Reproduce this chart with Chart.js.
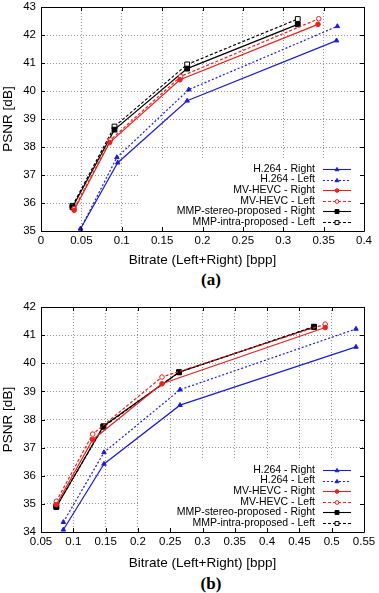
<!DOCTYPE html>
<html><head><meta charset="utf-8">
<script src="https://cdn.jsdelivr.net/npm/chart.js@4"></script>
<style>
html,body{margin:0;padding:0;background:#fff;}
body{width:379px;height:593px;position:relative;overflow:hidden;}
.wrap{position:absolute;left:0;width:379px;}
#wa{top:0;height:270px;}
#wb{top:295px;height:278px;}
.cap{position:absolute;font:bold 17px 'Liberation Serif','Times New Roman',serif;width:60px;text-align:center;left:181px;line-height:20px;color:#000;}
</style></head><body>
<div class="wrap" id="wa"><canvas id="ca" width="379" height="270"></canvas></div>
<div class="wrap" id="wb"><canvas id="cb" width="379" height="278"></canvas></div>
<div class="cap" style="top:270px">(a)</div>
<div class="cap" style="top:574px">(b)</div>
<script>
// ---------- data ----------
const seriesNames = ['H.264 - Right','H.264 - Left','MV-HEVC - Right','MV-HEVC - Left','MMP-stereo-proposed - Right','MMP-intra-proposed - Left'];
const xTitle = 'Bitrate (Left+Right) [bpp]';
const yTitle = 'PSNR [dB]';

// chart (a)
const aH264RightX = [0.049, 0.095, 0.181, 0.366];
const aH264RightY = [35.08, 37.44, 39.65, 41.80];
const aH264LeftX  = [0.049, 0.094, 0.183, 0.367];
const aH264LeftY  = [35.08, 37.63, 40.05, 42.31];
const aMvRightX   = [0.041, 0.085, 0.172, 0.343];
const aMvRightY   = [35.74, 38.16, 40.40, 42.38];
const aMvLeftX    = [0.041, 0.086, 0.173, 0.344];
const aMvLeftY    = [35.80, 38.25, 40.52, 42.58];
const aMmpRightX  = [0.039, 0.091, 0.181, 0.318];
const aMmpRightY  = [35.85, 38.62, 40.80, 42.38];
const aMmpLeftX   = [0.039, 0.091, 0.181, 0.318];
const aMmpLeftY   = [35.90, 38.73, 40.95, 42.57];
const aXTicks = [0, 0.05, 0.1, 0.15, 0.2, 0.25, 0.3, 0.35, 0.4];
const aXTickLabels = ['0','0.05','0.1','0.15','0.2','0.25','0.3','0.35','0.4'];
const aYTicks = [35, 36, 37, 38, 39, 40, 41, 42, 43];
const aYTickLabels = ['35','36','37','38','39','40','41','42','43'];

// chart (b)
const bH264RightX = [0.0846, 0.1475, 0.2652, 0.5376];
const bH264RightY = [34.08, 36.42, 38.51, 40.58];
const bH264LeftX  = [0.0846, 0.1475, 0.2652, 0.5376];
const bH264LeftY  = [34.35, 36.83, 39.06, 41.22];
const bMvRightX   = [0.0737, 0.130, 0.2373, 0.490];
const bMvRightY   = [34.97, 37.28, 39.27, 41.27];
const bMvLeftX    = [0.0737, 0.130, 0.2373, 0.490];
const bMvLeftY    = [35.09, 37.48, 39.51, 41.39];
const bMmpRightX  = [0.0737, 0.1465, 0.2636, 0.4726];
const bMmpRightY  = [34.89, 37.76, 39.68, 41.29];
const bMmpLeftX   = [0.0737, 0.1465, 0.2636, 0.4726];
const bMmpLeftY   = [34.90, 37.74, 39.68, 41.30];
const bXTicks = [0.05, 0.1, 0.15, 0.2, 0.25, 0.3, 0.35, 0.4, 0.45, 0.5, 0.55];
const bXTickLabels = ['0.05','0.1','0.15','0.2','0.25','0.3','0.35','0.4','0.45','0.5','0.55'];
const bYTicks = [34, 35, 36, 37, 38, 39, 40, 41, 42];
const bYTickLabels = ['34','35','36','37','38','39','40','41','42'];

// ---------- styles ----------
const BLUE = '#1c1ce0', RED = '#ee1e1e', BLACK = '#000000';
const styles = [
  {color: BLUE,  dash: [],     point: 'triangle', r: 2.6, fill: BLUE},
  {color: BLUE,  dash: [2, 2], point: 'triangle', r: 2.6, fill: BLUE},
  {color: RED,   dash: [],     point: 'circle',   r: 2.3, fill: RED},
  {color: RED,   dash: [3, 2], point: 'circle',   r: 2.3, fill: '#ffffff'},
  {color: BLACK, dash: [],     point: 'rect',     r: 3.4, fill: BLACK},
  {color: BLACK, dash: [3, 2], point: 'rect',     r: 3.4, fill: '#ffffff'}
];

function pts(xs, ys) { return xs.map((x, i) => ({x: x, y: ys[i]})); }
function buildDatasets(list) {
  return list.map((d, i) => ({
    label: seriesNames[i],
    data: pts(d[0], d[1]),
    showLine: true,
    borderColor: styles[i].color,
    borderWidth: 1.2,
    borderDash: styles[i].dash,
    pointStyle: styles[i].point,
    pointRadius: styles[i].r,
    pointBorderWidth: 1,
    pointBorderColor: styles[i].color,
    pointBackgroundColor: styles[i].fill,
    tension: 0
  }));
}

function drawMarker(ctx, st, x, y, k) {
  ctx.save();
  ctx.setLineDash([]);
  ctx.lineWidth = 1;
  ctx.strokeStyle = st.color;
  ctx.fillStyle = st.fill;
  ctx.beginPath();
  const r = st.r * k;
  if (st.point === 'circle') {
    ctx.arc(x, y, r, 0, Math.PI * 2);
  } else if (st.point === 'triangle') {
    ctx.moveTo(x, y - r);
    ctx.lineTo(x + r * 0.95, y + r * 0.6);
    ctx.lineTo(x - r * 0.95, y + r * 0.6);
    ctx.closePath();
  } else {
    const s = r * Math.SQRT1_2;
    ctx.rect(x - s, y - s, 2 * s, 2 * s);
  }
  ctx.fill();
  ctx.stroke();
  ctx.restore();
}

const framePlugin = {
  id: 'frame',
  beforeDatasetsDraw(chart) {
    const a = chart.chartArea, ctx = chart.ctx;
    ctx.save();
    ctx.fillStyle = '#ffffff';
    ctx.fillRect(139, a.bottom - 72, a.right - 139, 72);
    ctx.restore();
  },
  afterDatasetsDraw(chart) {
    const a = chart.chartArea, ctx = chart.ctx;
    const xs = chart.scales.x, ys = chart.scales.y;
    ctx.save();
    ctx.strokeStyle = '#000';
    ctx.lineWidth = 1;
    ctx.setLineDash([]);
    ctx.beginPath();
    ctx.rect(Math.round(a.left) + 0.5, Math.round(a.top) + 0.5, Math.round(a.right - a.left), Math.round(a.bottom - a.top));
    ctx.stroke();
    const tl = 4;
    ctx.beginPath();
    xs.ticks.forEach(t => {
      const px = Math.round(xs.getPixelForValue(t.value)) + 0.5;
      ctx.moveTo(px, a.bottom); ctx.lineTo(px, a.bottom - tl);
      ctx.moveTo(px, a.top); ctx.lineTo(px, a.top + tl);
    });
    ys.ticks.forEach(t => {
      const py = Math.round(ys.getPixelForValue(t.value)) + 0.5;
      ctx.moveTo(a.left, py); ctx.lineTo(a.left + tl, py);
      ctx.moveTo(a.right, py); ctx.lineTo(a.right - tl, py);
    });
    ctx.stroke();
    // legend
    ctx.font = '10.5px "Liberation Sans", Arial, sans-serif';
    ctx.textAlign = 'right';
    ctx.textBaseline = 'middle';
    ctx.fillStyle = '#000';
    const y0 = a.bottom - 62, dy = 10.6;
    chart.data.datasets.forEach((ds, i) => {
      const y = y0 + i * dy;
      ctx.fillText(ds.label, 315, y);
      const st = styles[i];
      ctx.save();
      ctx.strokeStyle = st.color;
      ctx.lineWidth = 1.1;
      ctx.setLineDash(st.dash);
      ctx.beginPath();
      ctx.moveTo(323, Math.round(y) + 0.5);
      ctx.lineTo(351, Math.round(y) + 0.5);
      ctx.stroke();
      ctx.restore();
      drawMarker(ctx, st, 337, Math.round(y) + 0.5, 0.8);
    });
    ctx.restore();
  }
};

function makeChart(id, datasets, xMin, xMax, xTicks, xLabels, yMin, yMax, yTicks, yLabels, padTop, xScaleH) {
  const tickFont = {family: '"Liberation Sans", Arial, sans-serif', size: 11.5};
  const titleFont = {family: '"Liberation Sans", Arial, sans-serif', size: 13.5};
  const gridColor = 'rgba(110,110,110,0.75)';
  return new Chart(document.getElementById(id), {
    type: 'scatter',
    data: {datasets: datasets},
    options: {
      responsive: false,
      animation: false,
      events: [],
      layout: {padding: {left: 0, right: 15, top: padTop, bottom: 0}},
      plugins: {legend: {display: false}, tooltip: {enabled: false}},
      scales: {
        x: {
          type: 'linear', min: xMin, max: xMax,
          afterBuildTicks: s => { s.ticks = xTicks.map(v => ({value: v})); },
          afterFit: s => { s.height = xScaleH; s.paddingLeft = 0; s.paddingRight = 0; },
          ticks: {callback: (v, i) => xLabels[i], font: tickFont, color: '#000', padding: 3, maxRotation: 0, autoSkip: false},
          grid: {color: gridColor, lineWidth: 1, drawTicks: false},
          border: {display: false, dash: [1, 2]},
          title: {display: true, text: xTitle, font: titleFont, color: '#000', padding: {top: 0, bottom: 2}}
        },
        y: {
          type: 'linear', min: yMin, max: yMax,
          afterBuildTicks: s => { s.ticks = yTicks.map(v => ({value: v})); },
          afterFit: s => { s.width = 41; s.paddingTop = 0; s.paddingBottom = 0; },
          ticks: {callback: (v, i) => yLabels[i], font: tickFont, color: '#000', padding: 5, autoSkip: false},
          grid: {color: gridColor, lineWidth: 1, drawTicks: false},
          border: {display: false, dash: [1, 2]},
          title: {display: true, text: yTitle, font: titleFont, color: '#000', padding: {top: 0, bottom: 0}}
        }
      }
    },
    plugins: [framePlugin]
  });
}

makeChart('ca', buildDatasets([
  [aH264RightX, aH264RightY], [aH264LeftX, aH264LeftY],
  [aMvRightX, aMvRightY], [aMvLeftX, aMvLeftY],
  [aMmpRightX, aMmpRightY], [aMmpLeftX, aMmpLeftY]
]), 0, 0.4, aXTicks, aXTickLabels, 35, 43, aYTicks, aYTickLabels, 7, 39);

makeChart('cb', buildDatasets([
  [bH264RightX, bH264RightY], [bH264LeftX, bH264LeftY],
  [bMvRightX, bMvRightY], [bMvLeftX, bMvLeftY],
  [bMmpRightX, bMmpRightY], [bMmpLeftX, bMmpLeftY]
]), 0.05, 0.55, bXTicks, bXTickLabels, 34, 42, bYTicks, bYTickLabels, 12, 41);
</script>
</body></html>
